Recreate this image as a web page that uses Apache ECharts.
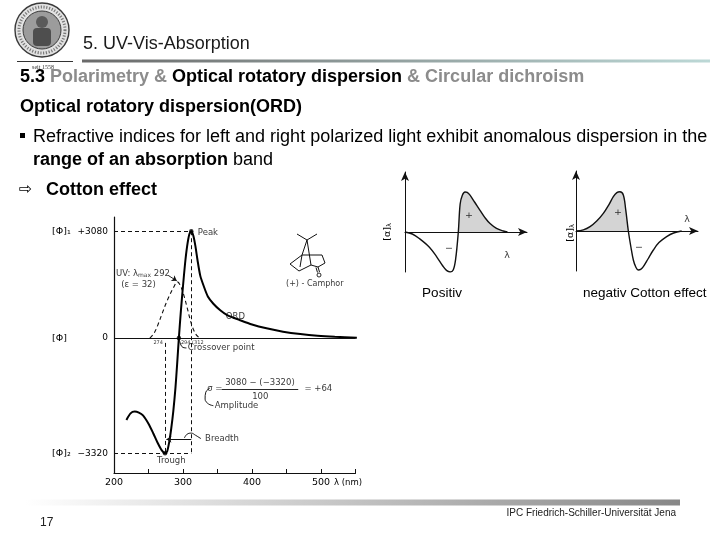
<!DOCTYPE html>
<html><head><meta charset="utf-8">
<script src="https://cdn.jsdelivr.net/npm/echarts@6/dist/echarts.min.js"></script>
<style>html,body{margin:0;padding:0;background:#fff}#c{width:720px;height:540px}</style>
</head><body><div id="c"></div>
<script>
// ---------- main ORD figure (camphor) ----------
const ordCurve = [[218,-2360],[224,-2170],[230,-2120],[236,-2150],[242,-2230],[250,-2470],[257,-2750],[263,-3010],[269,-3230],[274,-3320],
  [277,-3270],[280,-3000],[283,-2600],[286,-2100],[289,-1450],[291.5,-750],[294,0],[297,800],[300,1500],[303,2150],[306,2650],[309,2980],[312,3080],
  [315,2950],[318,2650],[321,2250],[325,1800],[330,1500],[336,1200],[344,990],[354,800],[364,660],[382,520],[400,390],[421,280],[445,185],[470,115],[495,65],[520,35],[552,10]];
const uvBand = [[252,0],[258,140],[264,400],[270,720],[276,1030],[281,1250],[286,1450],[292,1620],[297,1480],[302,1180],[306,880],[310,560],[314,300],[319,100],[324,0]];
const yTickValues = [3080, 0, -3320];
const yTickNames = ['[Φ]₁', '[Φ]', '[Φ]₂'];
const yTickTexts = ['+3080', '0', '−3320'];
const xTickLabels = [200, 300, 400, 500];
const keyPoints = [[274,-3320],[294,0],[312,3080]];
const guideLines = [[[200,3080],[312,3080]], [[312,3080],[312,-3320]], [[200,-3320],[312,-3320]], [[274,-140],[274,-3320]]];
const breadthLine = [[276,-2920],[312,-2920]];
const fractionBar = [[356,-1470],[467,-1470]];
const uvArrow = [[279,1800],[291,1650]];
const crossLeader = [[294,0],[297,-200],[300,-270],[305,-285]];
const breadthCurl = [[302,-2880],[306,-2770],[312,-2740],[318,-2800],[326,-2900]];
const amplitudeCurl = [[339,-1440],[333,-1560],[332,-1760],[337,-1900],[344,-1950]];
// [lambda, value, text, align, fontSize]
const mainNotes = [
  [321.5, 3040, 'Peak', 'left', 8.5],
  [283, -3545, 'Trough', 'center', 8.5],
  [362, 600, 'ORD', 'left', 8.5],
  [307, -290, 'Crossover point', 'left', 8.5],
  [203, 1850, 'UV: λ{s|max} 292', 'left', 8.5],
  [210.5, 1530, '(ε = 32)', 'left', 8.5],
  [264, -145, '274', 'center', 5],
  [297, -145, '294 (312', 'left', 5],
  [332, -2910, 'Breadth', 'left', 8.5],
  [346, -1960, 'Amplitude', 'left', 8.5],
  [335, -1470, 'σ =', 'left', 8.5],
  [411.5, -1280, '3080 − (−3320)', 'center', 8.5],
  [412, -1700, '100', 'center', 8.5],
  [476, -1470, '= +64', 'left', 8.5],
  [491, 1556, '(+) - Camphor', 'center', 8]
];
// ---------- small Cotton effect sketches ----------
const posCotton = [[0,0],[6,-0.05],[12,-0.17],[20,-0.38],[26,-0.62],[31,-0.85],[34,-0.96],[37,-1],[39.5,-0.95],[41.5,-0.68],[43.7,0],[45.2,0.7],[47,0.92],[49.2,1],[51,0.99],[53.3,0.92],[57,0.75],[61.5,0.54],[65.5,0.36],[69.7,0.21],[75,0.09],[80.6,0.025],[84,0]];
const negCotton = [[0,0],[6,0.03],[11.5,0.11],[17,0.25],[22.4,0.44],[27,0.66],[30.6,0.86],[33.5,0.96],[36,0.98],[38.8,0.9],[40.8,0.52],[42.9,0],[45,-0.4],[47,-0.725],[49,-0.9],[51,-0.975],[53,-0.96],[55.2,-0.89],[59,-0.7],[63.4,-0.475],[68,-0.29],[74.3,-0.14],[80,-0.05],[86.6,0]];
const posNotes = [[52.5, 0.42, '+'], [36, -0.42, '−'], [83.6, -0.58, 'λ']];
const negNotes = [[34.4, 0.45, '+'], [51.6, -0.42, '−'], [91, 0.28, 'λ']];

const SANS = '"Liberation Sans", Arial, sans-serif';
const FIG = '"DejaVu Sans", sans-serif';
const INK = '#000';

const chart = echarts.init(document.getElementById('c'), null, {renderer: 'canvas'});

function noteSeries(notes, xi, yi, fs) {
  return {
    type: 'scatter', xAxisIndex: xi, yAxisIndex: yi, symbolSize: 0, clip: false, silent: true, z: 5,
    data: notes.map(n => ({
      value: [n[0], n[1]],
      label: {show: true, position: 'inside', formatter: n[2], align: n[3] || 'center', verticalAlign: 'middle',
        fontSize: n[4] || fs, color: INK, fontFamily: FIG,
        rich: {s: {fontSize: 6, fontFamily: FIG, color: INK, verticalAlign: 'bottom', padding: [3, 0, 0, 0]}}}
    }))
  };
}
function segLine(points, extra) {
  return Object.assign({type: 'line', xAxisIndex: 0, yAxisIndex: 0, data: points, symbol: 'none', silent: true,
    lineStyle: {color: INK, width: 0.9}, smooth: 0.4, z: 4}, extra || {});
}
const pairs = (seg, st) => [{coord: seg[0], symbol: st ? st[0] : 'none'}, {coord: seg[1], symbol: st ? st[1] : 'none'}];

const hiddenAxis = {axisTick: {show: false}, axisLabel: {show: false}, splitLine: {show: false}};
const arrowAxisLine = {show: true, onZero: true, symbol: ['none', 'arrow'], symbolSize: [6, 9], lineStyle: {color: '#111', width: 1}};

const option = {
  animation: false,
  backgroundColor: '#fff',
  grid: [
    {left: 114, top: 217, width: 241.5, height: 256},
    {left: 405, top: 172, width: 122, height: 100},
    {left: 576, top: 171, width: 122, height: 100}
  ],
  xAxis: [
    {gridIndex: 0, type: 'value', min: 200, max: 550, interval: 50,
      axisLine: {show: true, onZero: false, lineStyle: {color: '#111', width: 1.2}},
      axisTick: {show: true, inside: true, length: 4, lineStyle: {color: '#111'}},
      axisLabel: {margin: 5, fontSize: 9.5, color: INK, fontFamily: FIG,
        formatter: v => xTickLabels.indexOf(v) >= 0 ? String(v) : ''},
      splitLine: {show: false},
      name: 'λ (nm)', nameLocation: 'end', nameGap: 0,
      nameTextStyle: {fontSize: 8.5, color: INK, fontFamily: FIG, align: 'right', verticalAlign: 'top', padding: [5, 0, 0, 0]}},
    Object.assign({gridIndex: 1, type: 'value', min: 0, max: 100, axisLine: arrowAxisLine}, hiddenAxis),
    Object.assign({gridIndex: 2, type: 'value', min: 0, max: 100, axisLine: arrowAxisLine}, hiddenAxis)
  ],
  yAxis: [
    {gridIndex: 0, type: 'value', min: -3890, max: 3490,
      axisLine: {show: true, onZero: false, lineStyle: {color: '#111', width: 1.2}},
      axisTick: {show: false},
      axisLabel: {customValues: yTickValues, margin: 6, color: INK, fontFamily: FIG, fontSize: 9,
        formatter: v => { const i = yTickValues.indexOf(v); return i < 0 ? '' : '{p|' + yTickNames[i] + '}{v|' + yTickTexts[i] + '}'; },
        rich: {p: {width: 24, align: 'left', fontSize: 9.5, fontFamily: FIG, color: INK}, v: {width: 32, align: 'right', fontSize: 9, fontFamily: FIG, color: INK}}},
      splitLine: {show: false}},
    Object.assign({gridIndex: 1, type: 'value', min: -1, max: 1.5, axisLine: arrowAxisLine}, hiddenAxis),
    Object.assign({gridIndex: 2, type: 'value', min: -1, max: 1.5, axisLine: arrowAxisLine}, hiddenAxis)
  ],
  series: [
    {name: 'ORD', type: 'line', xAxisIndex: 0, yAxisIndex: 0, data: ordCurve, smooth: 0.25, symbol: 'none',
      lineStyle: {color: '#000', width: 2}, z: 3,
      markLine: {silent: true, symbol: 'none', label: {show: false}, animation: false,
        lineStyle: {color: '#111', width: 1, type: 'solid'},
        data: [
          {yAxis: 0, lineStyle: {type: 'solid', width: 1}},
          ...guideLines.map(s => pairs(s).map((p, k) => k === 0 ? Object.assign(p, {lineStyle: {type: [4, 3], width: 1}}) : p)),
          pairs(breadthLine, ['arrow', 'none']).map((p, k) => k === 0 ? Object.assign(p, {symbolSize: 5, lineStyle: {type: 'solid', width: 1}}) : p),
          pairs(fractionBar).map((p, k) => k === 0 ? Object.assign(p, {lineStyle: {type: 'solid', width: 0.9}}) : p),
          pairs(uvArrow, ['none', 'arrow']).map((p, k) => k === 0 ? Object.assign(p, {lineStyle: {type: 'solid', width: 0.9}}) : Object.assign(p, {symbolSize: 5}))
        ]}},
    {name: 'UV', type: 'line', xAxisIndex: 0, yAxisIndex: 0, data: uvBand, smooth: 0.35, symbol: 'none',
      lineStyle: {color: '#111', width: 1.1, type: [4, 3]}, z: 2},
    {name: 'points', type: 'scatter', xAxisIndex: 0, yAxisIndex: 0, data: keyPoints, symbolSize: 4.5,
      itemStyle: {color: '#000'}, z: 6, clip: false},
    segLine(crossLeader),
    segLine(breadthCurl),
    segLine(amplitudeCurl),
    noteSeries(mainNotes, 0, 0, 8.5),
    // positive Cotton effect
    {type: 'line', xAxisIndex: 1, yAxisIndex: 1, data: posCotton.filter(p => p[0] >= 43.7), smooth: 0.35, symbol: 'none',
      lineStyle: {width: 0}, areaStyle: {color: '#d4d4d4', opacity: 1}, z: 1},
    {type: 'line', xAxisIndex: 1, yAxisIndex: 1, data: posCotton, smooth: 0.35, symbol: 'none',
      lineStyle: {color: '#111', width: 1.4}, z: 3},
    noteSeries(posNotes, 1, 1, 9.5),
    // negative Cotton effect
    {type: 'line', xAxisIndex: 2, yAxisIndex: 2, data: negCotton.filter(p => p[0] <= 42.9), smooth: 0.35, symbol: 'none',
      lineStyle: {width: 0}, areaStyle: {color: '#d4d4d4', opacity: 1}, z: 1},
    {type: 'line', xAxisIndex: 2, yAxisIndex: 2, data: negCotton, smooth: 0.35, symbol: 'none',
      lineStyle: {color: '#111', width: 1.4}, z: 3},
    noteSeries(negNotes, 2, 2, 9.5)
  ],
  graphic: [
    // seal
    {type: 'circle', shape: {cx: 42, cy: 30, r: 27}, style: {fill: '#e2e2e2', stroke: '#3a3a3a', lineWidth: 1.4}},
    {type: 'circle', shape: {cx: 42, cy: 30, r: 23}, style: {fill: 'none', stroke: '#7a7a7a', lineWidth: 3, lineDash: [1.2, 1.6]}},
    {type: 'circle', shape: {cx: 42, cy: 30, r: 19}, style: {fill: '#9c9c9c', stroke: '#3a3a3a', lineWidth: 1}},
    {type: 'circle', shape: {cx: 42, cy: 22, r: 6}, style: {fill: '#5a5a5a'}},
    {type: 'rect', shape: {x: 33, y: 28, width: 18, height: 18, r: 4}, style: {fill: '#4e4e4e'}},
    {type: 'text', x: 43, y: 67, style: {text: 'seit 1558', fontSize: 6, fontFamily: '"Liberation Serif", serif', fill: '#333', textAlign: 'center', textVerticalAlign: 'middle'}},
    {type: 'line', shape: {x1: 17, y1: 61.5, x2: 73, y2: 61.5}, style: {stroke: '#333', lineWidth: 1}},
    {type: 'rect', shape: {x: 82, y: 59.5, width: 628, height: 3}, style: {fill: {type: 'linear', x: 0, y: 0, x2: 1, y2: 0, colorStops: [{offset: 0, color: '#6a6a6a'}, {offset: 1, color: '#bcd8d6'}]}}},
    // header & body text
    {type: 'text', x: 83, y: 44, style: {text: '5. UV-Vis-Absorption', fontSize: 18, fontFamily: SANS, fill: '#1a1a1a', textVerticalAlign: 'middle'}},
    {type: 'text', x: 20, y: 77, style: {text: '{k|5.3} {g|Polarimetry &} {k|Optical rotatory dispersion} {g|& Circular dichroism}',
      fontSize: 18, fontWeight: 'bold', fontFamily: SANS, fill: '#000', textVerticalAlign: 'middle',
      rich: {k: {fontSize: 18, fontWeight: 'bold', fontFamily: SANS, fill: '#000'}, g: {fontSize: 18, fontWeight: 'bold', fontFamily: SANS, fill: '#8c8c8c'}}}},
    {type: 'text', x: 20, y: 107, style: {text: 'Optical rotatory dispersion(ORD)', fontSize: 18, fontWeight: 'bold', fontFamily: SANS, fill: '#000', textVerticalAlign: 'middle'}},
    {type: 'rect', shape: {x: 20, y: 133, width: 5, height: 5}, style: {fill: '#000'}},
    {type: 'text', x: 33, y: 137, style: {text: 'Refractive indices for left and right polarized light exhibit anomalous dispersion in the', fontSize: 18, fontFamily: SANS, fill: '#000', textVerticalAlign: 'middle'}},
    {type: 'text', x: 33, y: 160, style: {text: '{b|range of an absorption} band', fontSize: 18, fontFamily: SANS, fill: '#000', textVerticalAlign: 'middle',
      rich: {b: {fontSize: 18, fontWeight: 'bold', fontFamily: SANS, fill: '#000'}}}},
    {type: 'text', x: 19, y: 190, style: {text: '⇨', fontSize: 16, fontFamily: '"DejaVu Sans", sans-serif', fill: '#000', textVerticalAlign: 'middle'}},
    {type: 'text', x: 46, y: 190, style: {text: 'Cotton effect', fontSize: 18, fontWeight: 'bold', fontFamily: SANS, fill: '#000', textVerticalAlign: 'middle'}},
    // camphor sketch
    {type: 'group', children: [
      [[297,234],[307,240]], [[317,234],[307,240]], [[307,240],[302,255]], [[307,240],[311,265]],
      [[302,255],[322,255]], [[322,255],[325,263]], [[325,263],[318,267]],
      [[302,255],[290,264]], [[290,264],[299,271]], [[299,271],[311,265]], [[311,265],[318,267]],
      [[302,255],[300,267]], [[318,267],[319.5,272]], [[316,267.5],[317.5,272.5]]
    ].map(s => ({type: 'line', shape: {x1: s[0][0], y1: s[0][1], x2: s[1][0], y2: s[1][1]}, style: {stroke: '#111', lineWidth: 1}}))},
    {type: 'circle', shape: {cx: 319, cy: 275, r: 2}, style: {fill: 'none', stroke: '#111', lineWidth: 0.9}},
    // small chart texts
    {type: 'text', x: 388, y: 232, rotation: Math.PI / 2, style: {text: '[α]{s|λ}', fontSize: 9.5, fontFamily: FIG, fill: INK, textAlign: 'center', textVerticalAlign: 'middle',
      rich: {s: {fontSize: 6.5, fontFamily: FIG, fill: INK, verticalAlign: 'bottom'}}}},
    {type: 'text', x: 571, y: 233, rotation: Math.PI / 2, style: {text: '[α]{s|λ}', fontSize: 9.5, fontFamily: FIG, fill: INK, textAlign: 'center', textVerticalAlign: 'middle',
      rich: {s: {fontSize: 6.5, fontFamily: FIG, fill: INK, verticalAlign: 'bottom'}}}},
    {type: 'text', x: 442, y: 293, style: {text: 'Positiv', fontSize: 13.5, fontFamily: SANS, fill: '#000', textAlign: 'center', textVerticalAlign: 'middle'}},
    {type: 'text', x: 583, y: 293, style: {text: 'negativ Cotton effect', fontSize: 13.5, fontFamily: SANS, fill: '#000', textVerticalAlign: 'middle'}},
    // footer
    {type: 'rect', shape: {x: 25, y: 499.5, width: 655, height: 6}, style: {fill: {type: 'linear', x: 0, y: 0, x2: 1, y2: 0, colorStops: [{offset: 0, color: '#ffffff'}, {offset: 1, color: '#878787'}]}}},
    {type: 'text', x: 676, y: 513, style: {text: 'IPC Friedrich-Schiller-Universität Jena', fontSize: 10, fontFamily: SANS, fill: '#222', textAlign: 'right', textVerticalAlign: 'middle'}},
    {type: 'text', x: 40, y: 523, style: {text: '17', fontSize: 12, fontFamily: SANS, fill: '#222', textVerticalAlign: 'middle'}}
  ]
};
chart.setOption(option);
</script></body></html>
